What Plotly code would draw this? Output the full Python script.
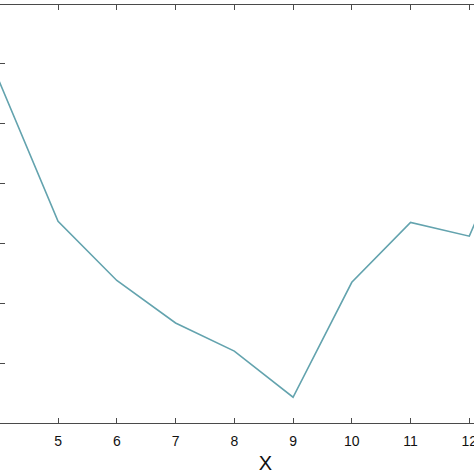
import plotly.graph_objects as go

# values (y axis labels are cropped, units arbitrary)
x_vals = [4, 5, 6, 7, 8, 9, 10, 11, 12, 13]
y_vals = [5.70, 3.37, 2.38, 1.67, 1.20, 0.43, 2.35, 3.35, 3.12, 5.4]
x_ticks = [4, 5, 6, 7, 8, 9, 10, 11, 12, 13]

line_color = "#63a3ae"
axis_color = "#4a4a4a"
fig_w = 531  # wider than the window, the right side gets cropped like the reference

fig = go.Figure()
fig.add_trace(
    go.Scatter(x=x_vals, y=y_vals, mode="lines",
               line=dict(color=line_color, width=1.6), showlegend=False)
)

fig.update_layout(
    width=fig_w,
    height=474,
    margin=dict(l=0, r=0, t=5, b=51),
    plot_bgcolor="white",
    paper_bgcolor="white",
    font=dict(family="Liberation Sans, Arial", color="#111111"),
    xaxis=dict(
        range=[4.012, 4.012 + fig_w / 58.75],
        tickvals=x_ticks,
        ticks="inside",
        ticklen=5,
        tickcolor=axis_color,
        ticklabelstandoff=5,
        showline=True,
        linecolor=axis_color,
        linewidth=1.2,
        mirror="ticks",
        showgrid=False,
        zeroline=False,
        tickfont=dict(size=14),
        title=dict(text="X", font=dict(size=20), standoff=9),
    ),
    yaxis=dict(
        range=[0, 6.98],
        dtick=1,
        ticks="inside",
        ticklen=5,
        tickcolor=axis_color,
        showline=True,
        linecolor=axis_color,
        linewidth=1.2,
        showgrid=False,
        zeroline=False,
        showticklabels=False,
    ),
)

# drop the browser's default body margin / scrollbars so the figure sits at the window corner
fig.write_html(
    "out.html",
    config={"displayModeBar": False},
    post_script="document.body.style.margin = '0'; document.body.style.overflow = 'hidden';",
)
